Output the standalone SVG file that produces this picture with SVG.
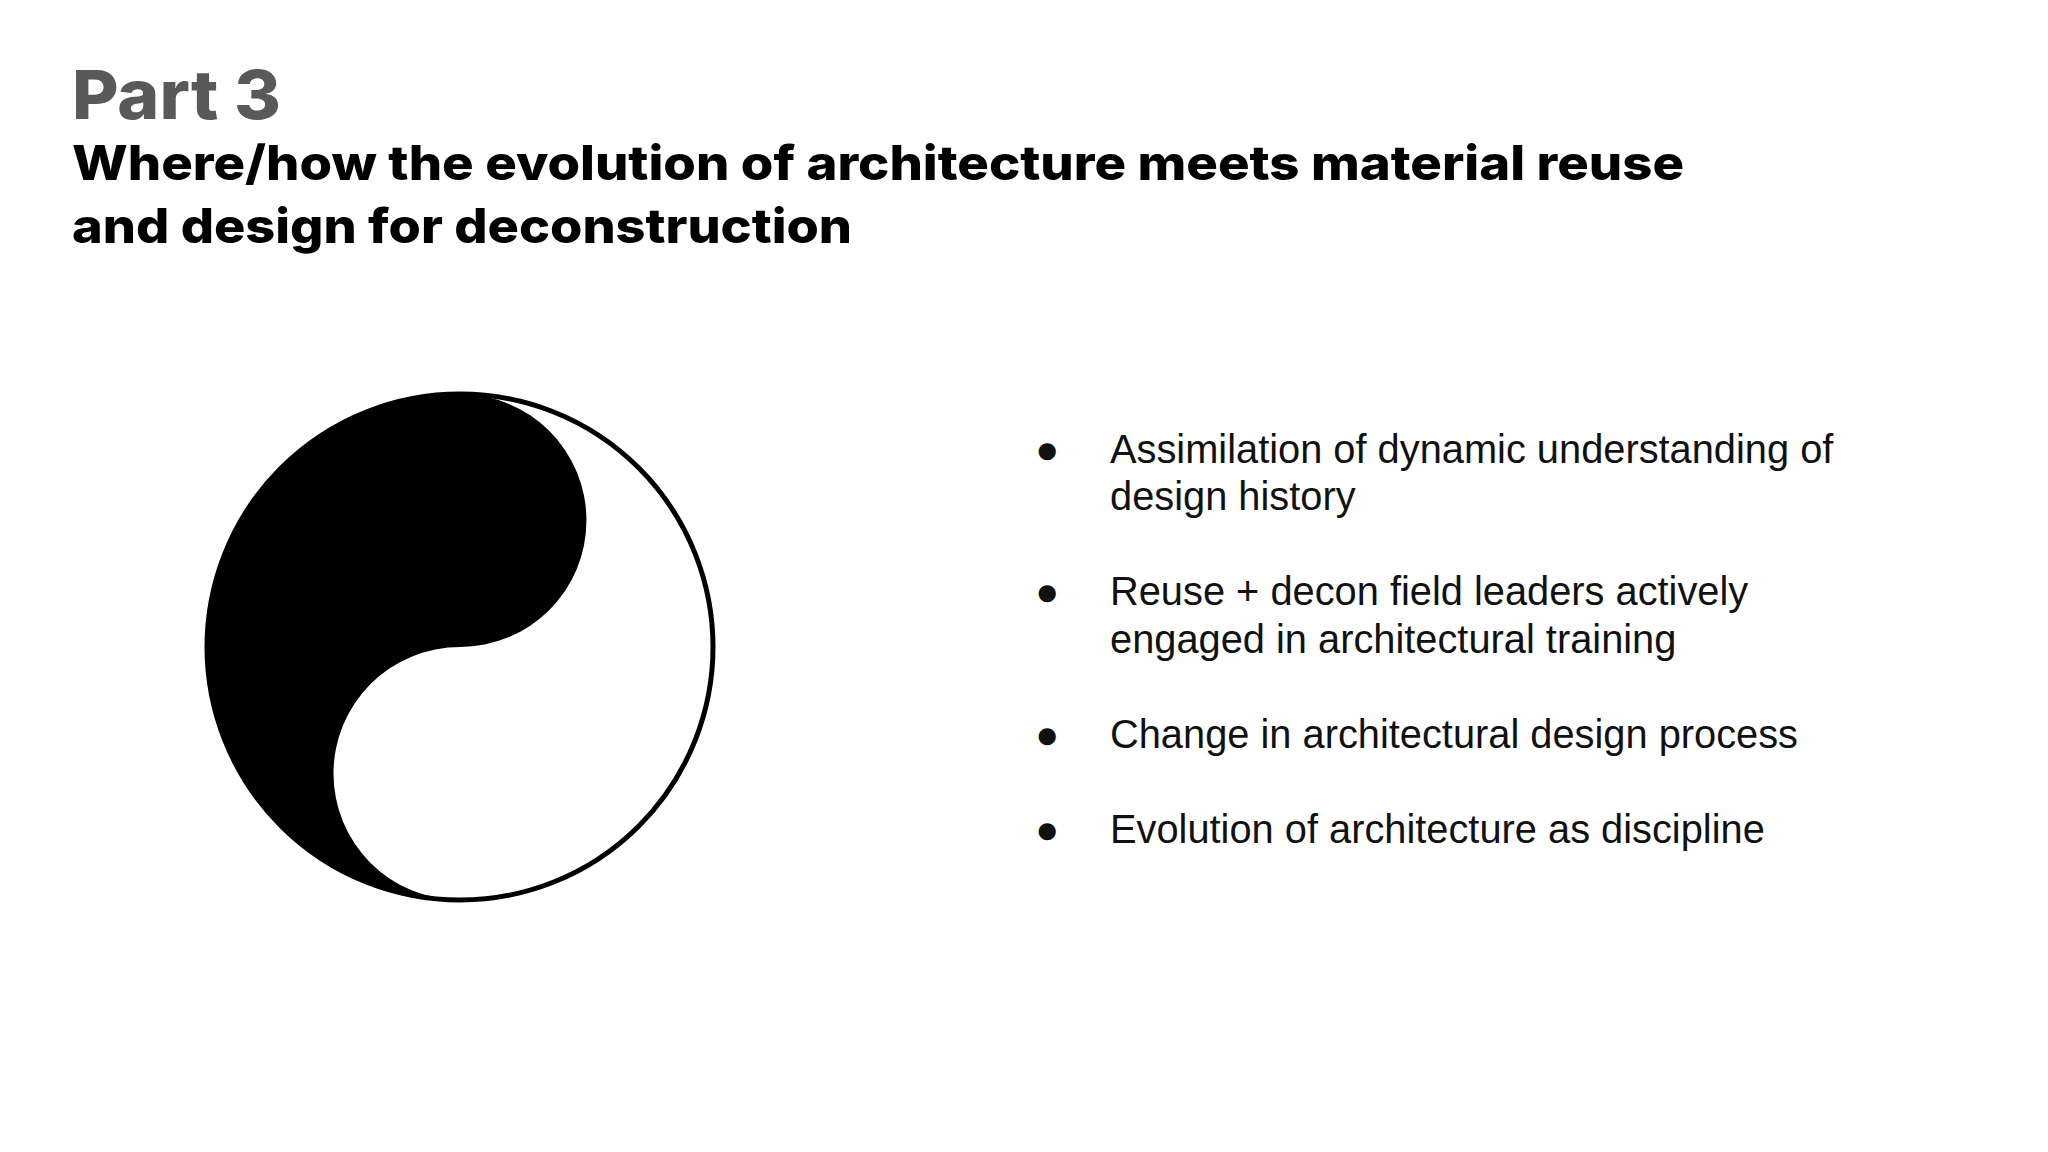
<svg xmlns="http://www.w3.org/2000/svg" width="2048" height="1152" viewBox="0 0 2048 1152">
<style>
.h{font-family:Inter,"Noto Sans",sans-serif;font-weight:800}
.b{font-family:"Liberation Sans",Arial,sans-serif;font-size:39.8px;fill:#111}
</style>
<rect width="2048" height="1152" fill="#fff"/>
<g id="title">
<text class="h" x="72" y="119" font-size="68" fill="#595959" textLength="209" lengthAdjust="spacingAndGlyphs">Part 3</text>
<text class="h" x="72" y="180" font-size="48" fill="#000" textLength="1612" lengthAdjust="spacingAndGlyphs">Where/how the evolution of architecture meets material reuse</text>
<text class="h" x="72" y="243" font-size="48" fill="#000" textLength="780" lengthAdjust="spacingAndGlyphs">and design for deconstruction</text>
</g>
<g id="yinyang">
<circle cx="460" cy="647" r="253" fill="#fff" stroke="#000" stroke-width="5"/>
<path d="M460,394 A253,253 0 0 0 460,900 A126.5,126.5 0 0 1 460,647 A126.5,126.5 0 0 0 460,394 Z" fill="#000"/>
</g>
<g id="bullets">
<text class="b" x="1035" y="463">●</text>
<text class="b" x="1110" y="463">Assimilation of dynamic understanding of</text>
<text class="b" x="1110" y="510">design history</text>
<text class="b" x="1035" y="605">●</text>
<text class="b" x="1110" y="605">Reuse + decon field leaders actively</text>
<text class="b" x="1110" y="653">engaged in architectural training</text>
<text class="b" x="1035" y="748">●</text>
<text class="b" x="1110" y="748">Change in architectural design process</text>
<text class="b" x="1035" y="843">●</text>
<text class="b" x="1110" y="843">Evolution of architecture as discipline</text>
</g>
</svg>
